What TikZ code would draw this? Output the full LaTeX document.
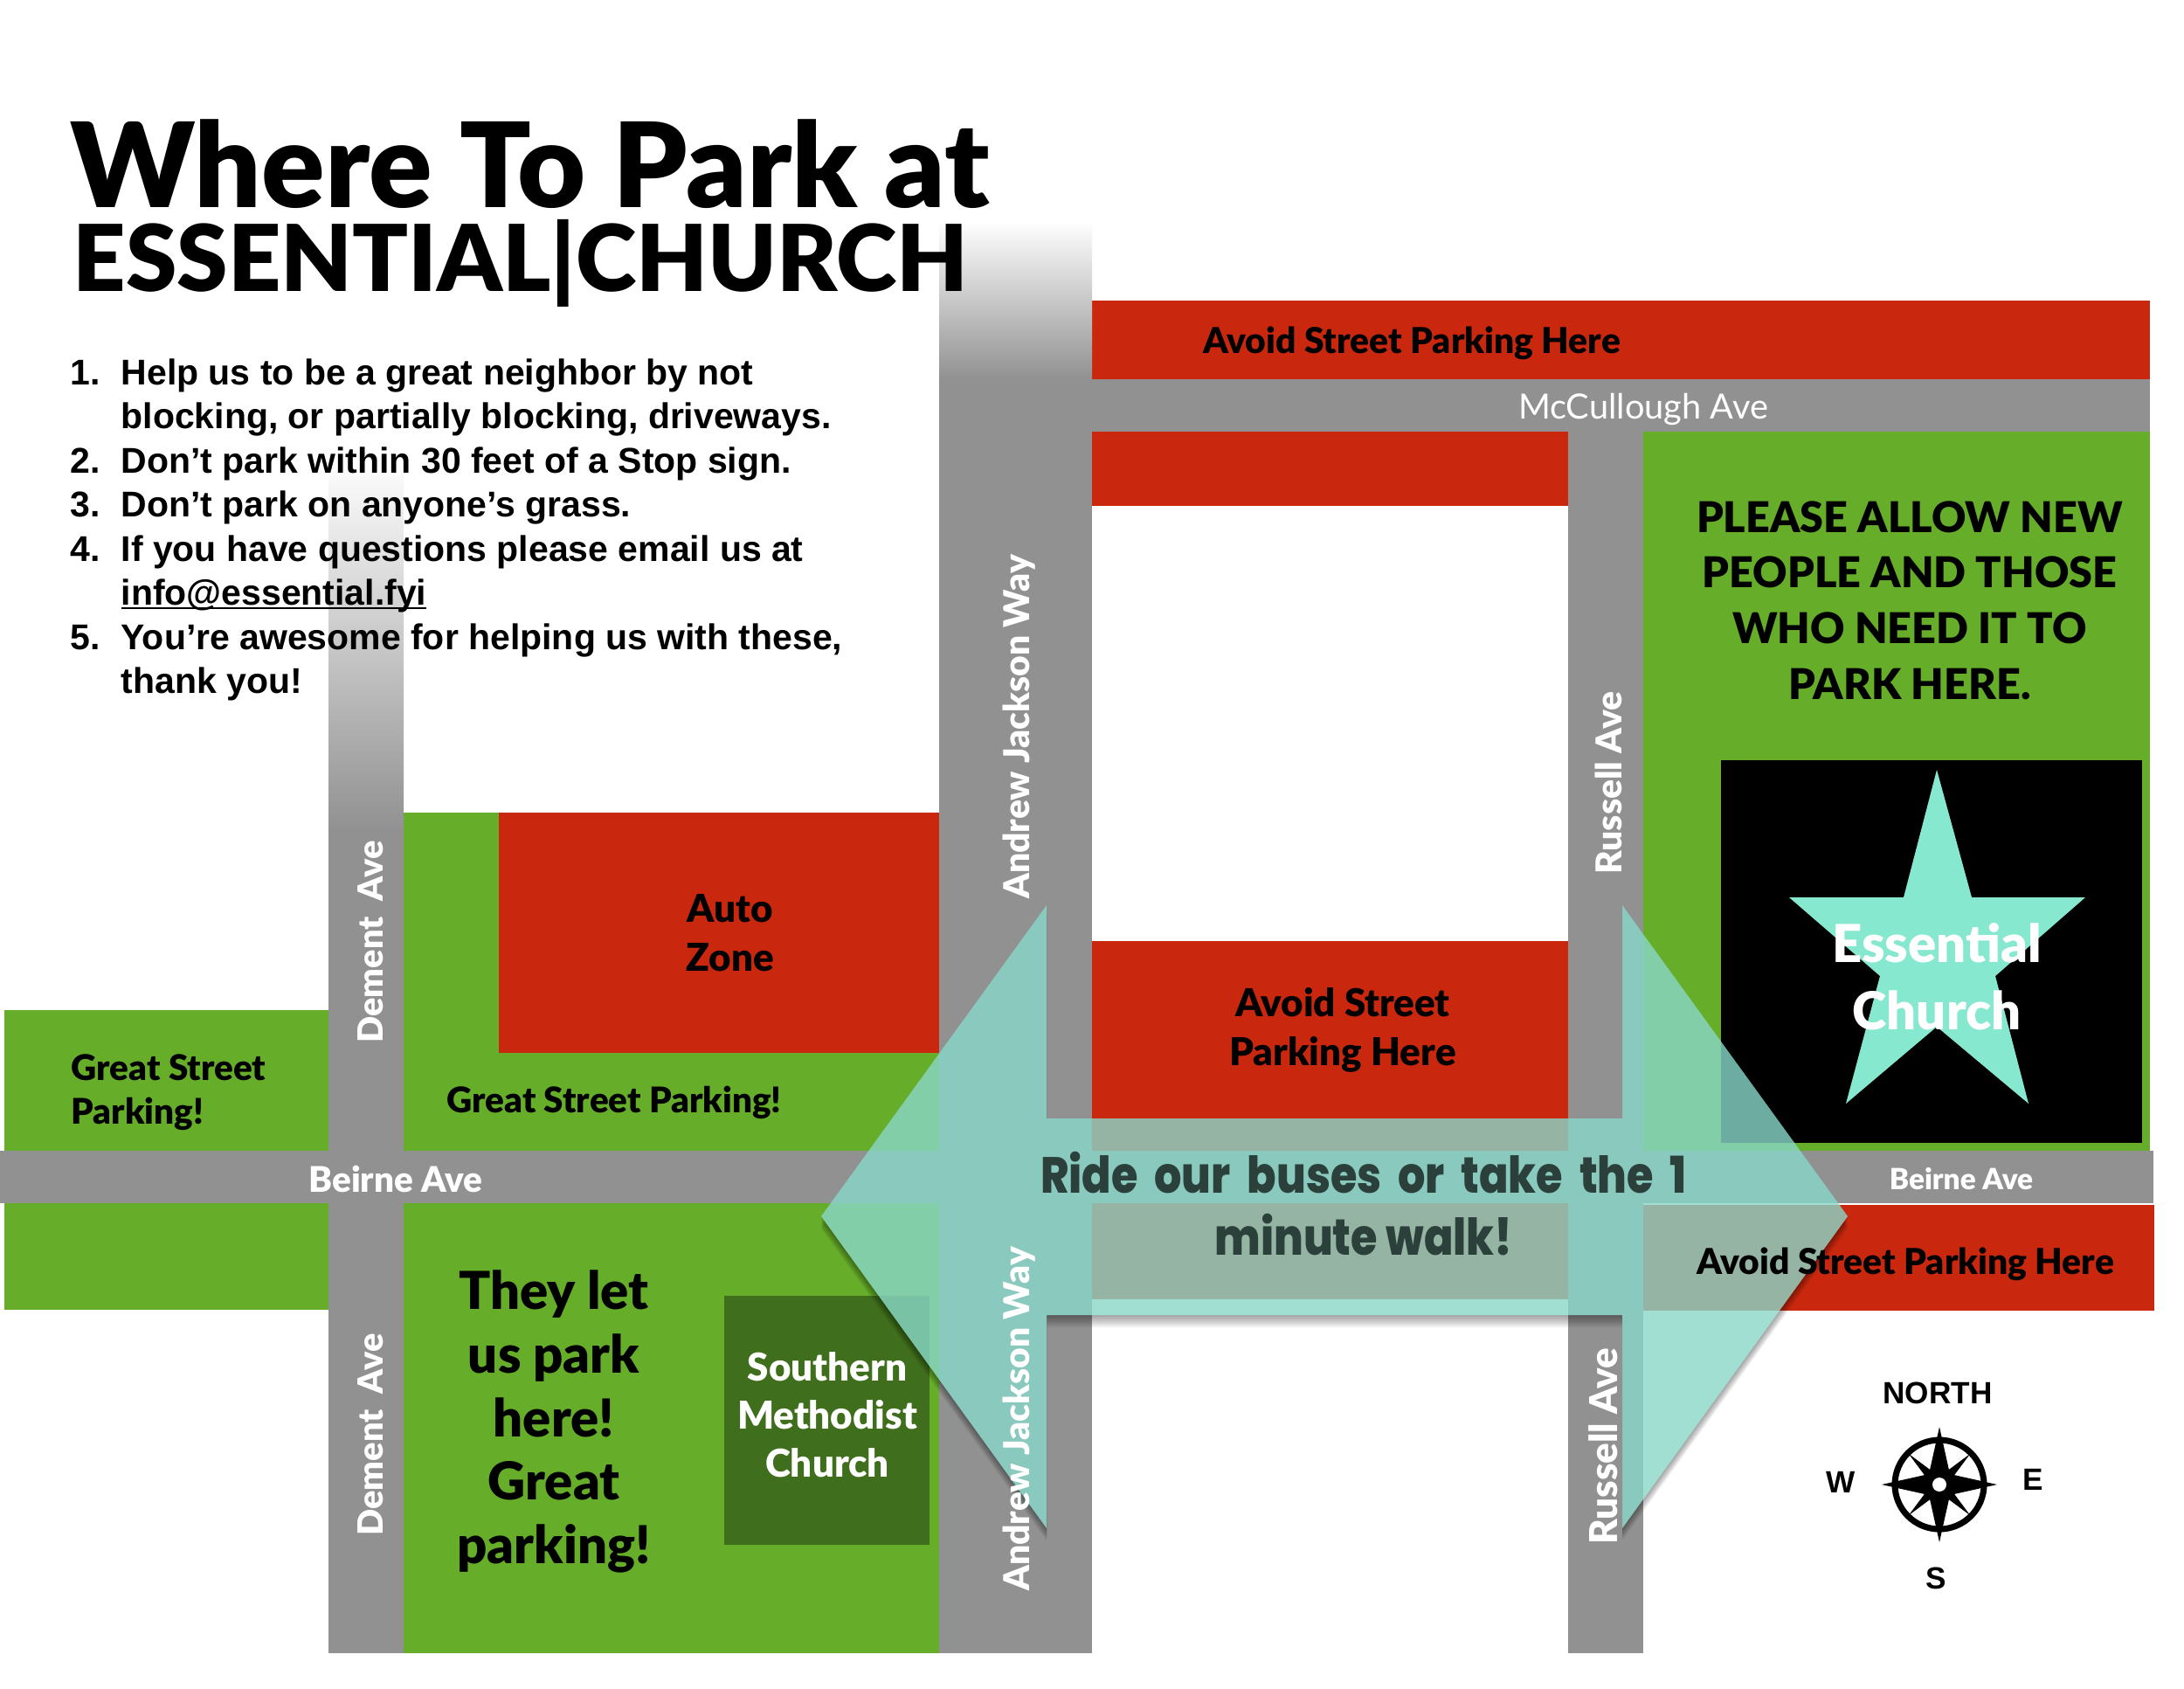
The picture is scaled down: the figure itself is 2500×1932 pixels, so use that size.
\documentclass[tikz,border=0pt]{standalone}
\usepackage{fontspec}
\setmainfont{Liberation Sans}
\newfontfamily\avenirfont{Lato}[BoldFont={Lato Black}]
\newfontfamily\futurafont{Poppins}[BoldFont={Poppins ExtraBold}]
\usetikzlibrary{positioning, calc}
\definecolor{roadgray}{HTML}{919191}
\definecolor{okgreen}{HTML}{66AD29}
\definecolor{churchgreen}{HTML}{3F6E1C}
\definecolor{avoidred}{HTML}{C9280F}
\definecolor{starmint}{HTML}{87E8D0}
\definecolor{arrowmint}{HTML}{89D7C8}
\definecolor{ridetext}{HTML}{2B3F3B}
\newcommand{\linktext}[1]{\setbox0=\hbox{#1}\rlap{\rule[-1.3pt]{\wd0}{0.5pt}}\box0}

\begin{document}
\begin{tikzpicture}[
                x=0.01cm,
                y=-0.01cm,
                road/.style={fill=roadgray},
                okzone/.style={fill=okgreen},
                avoidzone/.style={fill=avoidred},
                place/.style 2 args={inner sep=0pt, align=center, font=\avenirfont\bfseries\fontsize{#1}{#2}\selectfont},
                street/.style={place={#1}{#1}, text=white},
                listitem/.style={inner sep=0pt, anchor=base west, font=\bfseries\fontsize{11.65}{14}\selectfont},
            ]
                \useasboundingbox (0,0) rectangle (2500,1932);

                % Draw the green parking blocks
                \fill[okzone] (5,1156) rectangle (376,1317);
                \fill[okzone] (5,1377) rectangle (376,1499);
                \fill[okzone] (462,930) rectangle (1075,1317);
                \fill[okzone] (462,1377) rectangle (1075,1892);
                \fill[okzone] (1881,494) rectangle (2461,1317);
                \fill[churchgreen] (829,1483) rectangle (1064,1768);

                % Draw the red blocks
                \fill[avoidzone] (1250,344) rectangle (2461,434);
                \fill[avoidzone] (1250,494) rectangle (1795,579);
                \fill[avoidzone] (571,930) rectangle (1075,1205);
                \fill[avoidzone] (1250,1077) rectangle (1795,1317);
                \fill[avoidzone] (1250,1377) rectangle (1795,1487);
                \fill[avoidzone] (1871,1379) rectangle (2466,1500);

                % Draw the roads, two of them fade out at the top
                \shade[top color=white, bottom color=roadgray] (1075,253) rectangle (1250,434);
                \fill[road] (1075,434) rectangle (1250,1892);
                \shade[top color=roadgray!5, bottom color=roadgray] (376,544) rectangle (462,950);
                \fill[road] (376,950) rectangle (462,1892);
                \fill[road] (1795,494) rectangle (1881,1892);
                \fill[road] (1250,434) rectangle (2461,494);
                \fill[road] (0,1317) rectangle (2465,1377);

                % Draw the church with its star
                \fill[black] (1970,870) rectangle (2452,1308);
                \fill[starmint] (2217,881) -- (2257,1027) -- (2387,1027) -- (2284,1117) -- (2322,1263)
                    -- (2217,1175) -- (2113,1263) -- (2152,1117) -- (2048,1027) -- (2179,1027) -- cycle;

                % Shadow of the walking arrow, only outside of it
                \begin{scope}[even odd rule]
                    \clip (0,0) rectangle (2500,1932)
                        (940,1392) -- (1198,1036) -- (1198,1280) -- (1857,1280) -- (1857,1036) -- (2115,1392)
                        -- (1857,1749) -- (1857,1505) -- (1198,1505) -- (1198,1749) -- cycle;
                    \foreach \d in {0.5,1,...,4}
                        \fill[black, opacity=0.05, yshift=-\d] (940,1392) -- (1198,1036) -- (1198,1280) -- (1857,1280) -- (1857,1036) -- (2115,1392)
                            -- (1857,1749) -- (1857,1505) -- (1198,1505) -- (1198,1749) -- cycle;
                \end{scope}

                % Draw the walking arrow
                \fill[arrowmint, opacity=0.8] (940,1392) -- (1198,1036) -- (1198,1280) -- (1857,1280) -- (1857,1036) -- (2115,1392)
                    -- (1857,1749) -- (1857,1505) -- (1198,1505) -- (1198,1749) -- cycle;

                % Title
                \node[inner sep=0pt, anchor=base west, font=\avenirfont\bfseries\fontsize{38.3}{38.3}\selectfont] (title-top) at (80,237) {Where To Park at};
                \node[inner sep=0pt, anchor=base west, font=\avenirfont\bfseries\fontsize{30}{30}\selectfont] (title-bottom) at (83,333) {ESSENTIAL|CHURCH};

                % Draw the numbered rules, one node for each line
                \foreach \name / \y / \txt in {
                        a/0/{1.},
                        c/2/{2.},
                        d/3/{3.},
                        e/4/{4.},
                        g/6/{5.}}
                    \node[listitem] (num-\name) at (80,{440+50.5*\y}) {\txt};
                \foreach \name / \y / \txt in {
                        a/0/{Help us to be a great neighbor by not},
                        b/1/{blocking, or partially blocking, driveways.},
                        c/2/{Don’t park within 30 feet of a Stop sign.},
                        d/3/{Don’t park on anyone’s grass.},
                        e/4/{If you have questions please email us at},
                        f/5/{\linktext{info@essential.fyi}},
                        g/6/{You’re awesome for helping us with these,},
                        h/7/{thank you!}}
                    \node[listitem] (rule-\name) at (138,{440+50.5*\y}) {\txt};

                % Street names
                \node[street=11.3, rotate=90] (dement-top) at (424,1078) {Dement\ \ Ave};
                \node[street=11.3, rotate=90] (dement-bottom) at (424,1642) {Dement\ \ Ave};
                \node[street=11.6, rotate=90] (jackson-top) at (1167,832) {Andrew Jackson Way};
                \node[street=11.6, rotate=90] (jackson-bottom) at (1167,1624) {Andrew Jackson Way};
                \node[street=11.6, rotate=90] (russell-top) at (1841,896) {Russell Ave};
                \node[street=12.5, rotate=90] (russell-bottom) at (1835,1655) {Russell Ave};
                \node[inner sep=0pt, text=white, font=\avenirfont\fontsize{11.3}{11.3}\selectfont] (mccullough) at (1881,468) {McCullough Ave};
                \node[street=11.5] (beirne-left) at (453,1349) {Beirne Ave};
                \node[street=9.5] (beirne-right) at (2245,1349) {Beirne Ave};

                % Labels of the blocks
                \node[place={11.6}{14}] (avoid-top) at (1616,393) {Avoid Street Parking Here};
                \node[place={11.6}{14}] (avoid-right) at (2181,1447) {Avoid Street Parking Here};
                \node[place={12.5}{16}] (auto) at (836,1068) {Auto\\Zone};
                \node[place={11.5}{14.3}, align=left, anchor=west] (great-left) at (81,1250) {Great Street\\Parking!};
                \node[place={11.5}{14}] (great-mid) at (703,1262) {Great Street Parking!};
                \node[place={17}{20.7}] (let-us) at (634,1627) {They let\\us park\\here!\\Great\\parking!};
                \node[place={12.5}{15.7}, text=white] (southern) at (947,1619) {Southern\\Methodist\\Church};
                \node[place={12.5}{15.9}] (avoid-mid) at (1537,1179) {Avoid Street\\Parking Here};
                \node[place={13.8}{18.1}] (please) at (2186,687) {PLEASE ALLOW NEW\\PEOPLE AND THOSE\\WHO NEED IT TO\\PARK HERE.};
                \node[place={17}{22}, text=white] (essential) at (2217,1118) {Essential\\Church};

                % Text on the arrow
                \node[inner sep=0pt, align=center, text=ridetext, xscale=0.85, transform shape,
                      font=\futurafont\bfseries\fontsize{16.5}{20.2}\selectfont] (ride) at (1561,1378) {\spaceskip=6.3pt Ride our buses or take the 1\\minute walk!};

                % Draw the compass
                \begin{scope}[shift={(2220,1699)}]
                    \draw[line width=2pt] (0,0) coordinate (needle) circle [radius=51];
                    \foreach \a in {45,135,225,315}
                        \fill (\a:50) -- (\a+45:9) -- (\a+180:7) -- (\a-45:9) -- cycle;
                    \foreach \a in {0,90,180,270}
                        \fill (\a:66) -- (\a+45:17) -- (\a+90:5) -- (\a+180:5) -- (\a-90:5) -- (\a-45:17) -- cycle;
                    \fill[white] (needle) circle [radius=8];
                \end{scope}
                \node[inner sep=0pt, font=\bfseries\fontsize{10}{10}\selectfont] (north) at (2218,1594) {NORTH};
                \node[inner sep=0pt, font=\bfseries\fontsize{10}{10}\selectfont] (west) at (2107,1696) {W};
                \node[inner sep=0pt, font=\bfseries\fontsize{10}{10}\selectfont] (east) at (2327,1693) {E};
                \node[inner sep=0pt, font=\bfseries\fontsize{10}{10}\selectfont] (south) at (2216,1806) {S};
            \end{tikzpicture}
\end{document}
